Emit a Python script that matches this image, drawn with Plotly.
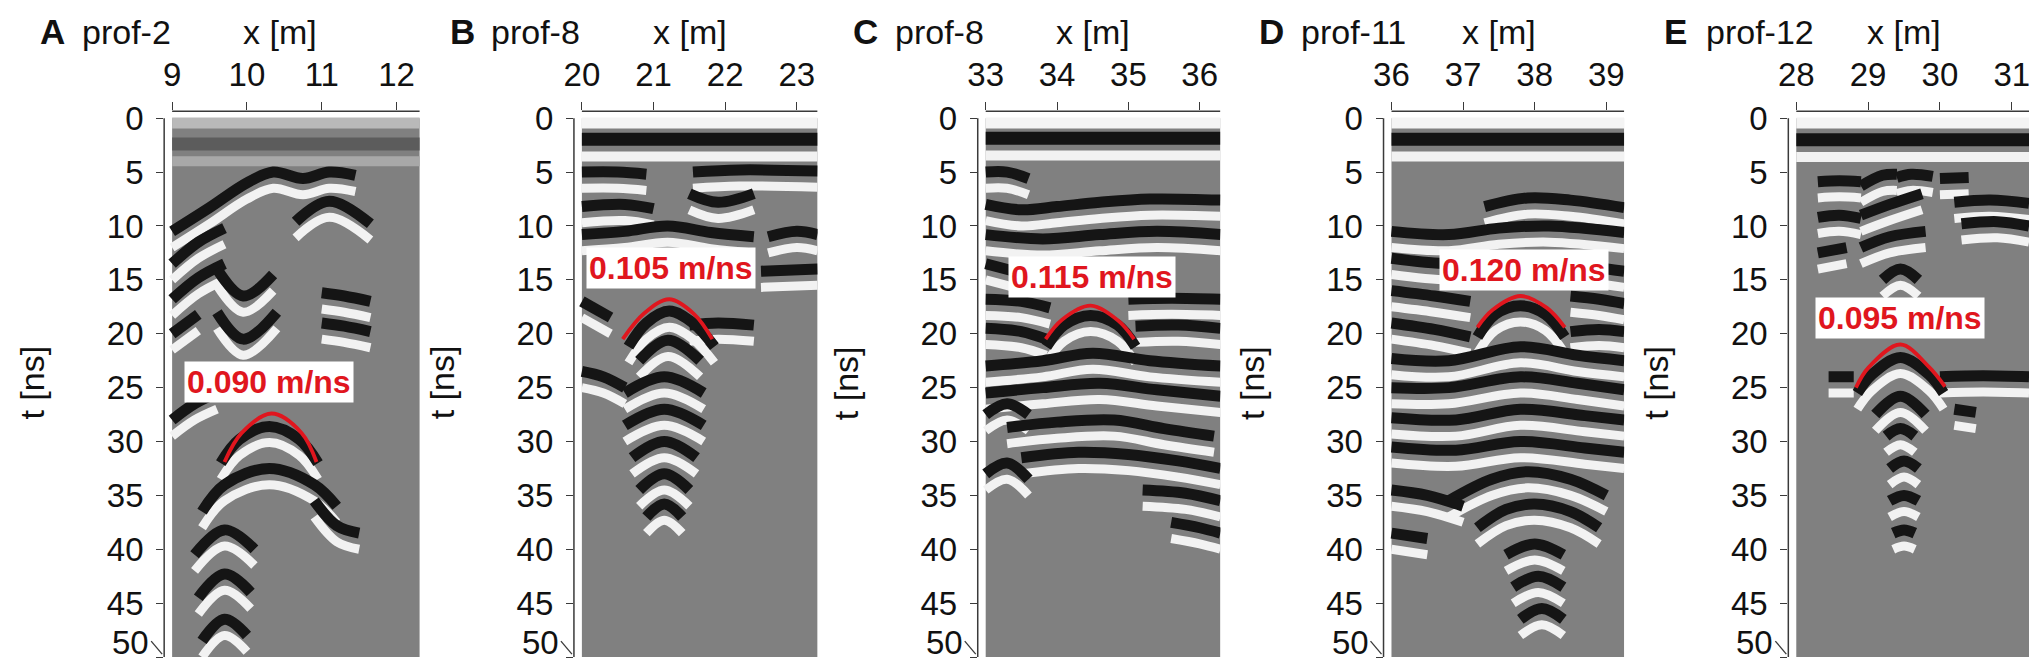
import plotly.graph_objects as go

# ---- data ----
panels = ["A", "B", "C", "D", "E"]
profiles = ["prof-2", "prof-8", "prof-8", "prof-11", "prof-12"]
velocity = [0.090, 0.105, 0.115, 0.120, 0.095]  # m/ns
x_start = [9.0, 20.0, 33.0, 36.0, 28.0]
x_end = [12.31, 23.29, 36.29, 39.25, 31.24]
t_ticks = [0, 5, 10, 15, 20, 25, 30, 35, 40, 45, 50]

# direct (air/ground) wave, t [ns]
direct_t = [2.4, 1.95, 1.85, 1.95, 2.0]

# picked diffraction hyperbolas (red)
hyp_x = [
    [9.70, 9.93, 10.33, 10.73, 10.93],
    [20.57, 20.87, 21.22, 21.57, 21.82],
    [33.84, 34.07, 34.47, 34.86, 35.08],
    [37.20, 37.41, 37.80, 38.17, 38.42],
    [28.83, 29.01, 29.45, 29.85, 30.07],
]
hyp_t = [
    [31.9, 29.2, 27.4, 29.2, 31.9],
    [20.5, 18.1, 16.8, 18.2, 20.5],
    [20.5, 18.7, 17.4, 18.8, 20.5],
    [19.4, 17.8, 16.5, 17.6, 19.4],
    [25.0, 23.1, 21.0, 23.1, 24.9],
]
label_x = [10.30, 21.25, 34.49, 37.85, 29.44]
label_t = [24.5, 13.9, 14.7, 14.1, 18.5]

# traced reflections (dark phase), x [m] / t [ns]
refl_A = [
    ([9.0, 9.5, 10.0, 10.35, 10.75, 11.1, 11.45], [10.5, 8.3, 6.0, 5.0, 5.6, 5.0, 5.3]),
    ([10.65, 11.1, 11.65], [9.6, 7.7, 9.8]),
    ([9.0, 9.35, 9.7], [13.5, 11.5, 10.2]),
    ([9.0, 9.35, 9.7], [16.8, 14.8, 13.5]),
    ([9.0, 9.35], [20.0, 18.2]),
    ([9.6, 9.95, 10.35], [14.0, 16.5, 14.5]),
    ([9.6, 9.95, 10.4], [18.0, 20.5, 18.0]),
    ([11.0, 11.3, 11.65], [16.2, 16.5, 17.0]),
    ([11.0, 11.3, 11.65], [19.0, 19.3, 19.8]),
    ([9.0, 9.3, 9.6], [28.0, 26.5, 25.5]),
    ([9.65, 9.9, 10.3, 10.7, 10.95], [32.0, 29.8, 28.6, 29.8, 32.0]),
    ([9.4, 9.7, 10.3, 10.9, 11.2], [36.5, 34.0, 32.5, 34.0, 36.0]),
    ([9.3, 9.7, 10.1], [40.5, 38.2, 40.0]),
    ([9.35, 9.7, 10.05], [44.5, 42.3, 44.0]),
    ([9.4, 9.7, 10.0], [48.5, 46.5, 48.0]),
    ([10.9, 11.2, 11.5], [35.5, 37.8, 38.5]),
]
refl_B = [
    ([20.0, 20.5, 20.9], [5.0, 5.0, 5.2]),
    ([21.55, 22.2, 23.29], [5.0, 4.8, 4.9]),
    ([20.0, 20.6, 21.0], [8.2, 8.0, 8.4]),
    ([21.5, 21.9, 22.4], [7.0, 7.8, 7.0]),
    ([20.0, 20.6, 21.2, 21.8, 22.4], [10.8, 10.5, 10.0, 10.6, 11.0]),
    ([22.6, 23.0, 23.29], [11.0, 10.5, 10.8]),
    ([22.5, 23.29], [14.2, 14.0]),
    ([20.0, 20.4], [17.0, 18.5]),
    ([20.65, 20.9, 21.22, 21.55, 21.85], [21.2, 19.0, 17.9, 19.0, 21.2]),
    ([21.5, 21.9, 22.4], [19.2, 19.0, 19.2]),
    ([20.8, 21.2, 21.65], [22.5, 20.6, 22.5]),
    ([20.0, 20.3, 20.6], [23.5, 24.0, 25.0]),
    ([20.6, 21.15, 21.7], [25.5, 24.0, 25.5]),
    ([20.6, 21.15, 21.7], [28.5, 27.0, 28.5]),
    ([20.7, 21.15, 21.6], [31.5, 30.0, 31.5]),
    ([20.8, 21.15, 21.5], [34.5, 33.0, 34.5]),
    ([20.9, 21.15, 21.4], [37.0, 35.8, 37.0]),
]
refl_C = [
    ([33.0, 33.3, 33.6], [5.0, 5.0, 5.6]),
    ([33.0, 33.5, 34.0, 34.6, 35.3, 36.29], [8.0, 8.5, 8.2, 7.8, 7.5, 7.6]),
    ([33.0, 33.8, 34.6, 35.4, 36.29], [10.8, 11.2, 10.8, 10.5, 10.8]),
    ([33.0, 33.4], [13.5, 14.2]),
    ([33.0, 33.5, 33.9], [16.8, 17.0, 17.6]),
    ([35.0, 35.6, 36.29], [16.8, 16.7, 16.8]),
    ([33.85, 34.1, 34.47, 34.85, 35.1], [21.2, 19.2, 18.3, 19.2, 21.2]),
    ([33.0, 33.5, 33.85], [19.5, 19.8, 20.5]),
    ([35.1, 35.7, 36.29], [19.3, 19.2, 19.5]),
    ([33.0, 33.8, 34.5, 35.3, 36.29], [23.0, 22.5, 21.8, 22.5, 23.0]),
    ([33.0, 33.8, 34.6, 35.4, 36.29], [25.5, 25.0, 24.6, 25.2, 25.8]),
    ([33.3, 34.0, 34.8, 35.5, 36.2], [28.7, 28.2, 28.0, 28.8, 29.5]),
    ([33.5, 34.3, 35.0, 35.7, 36.29], [31.5, 31.0, 31.2, 31.8, 32.5]),
    ([35.2, 35.8, 36.29], [34.5, 34.8, 35.5]),
    ([35.6, 36.0, 36.29], [37.5, 38.0, 38.5]),
    ([33.0, 33.3, 33.6], [27.5, 26.5, 27.5]),
    ([33.0, 33.3, 33.6], [33.0, 32.0, 33.5]),
]
refl_D = [
    ([37.3, 37.9, 38.5, 39.25], [8.2, 7.4, 7.6, 8.3]),
    ([36.0, 36.8, 37.5, 38.2, 39.25], [10.5, 10.8, 10.2, 10.0, 10.6]),
    ([36.0, 36.8, 37.5], [13.0, 13.5, 13.2]),
    ([38.3, 38.8, 39.25], [13.5, 13.8, 14.2]),
    ([36.0, 36.6, 37.1], [16.0, 16.5, 17.0]),
    ([38.5, 38.9, 39.25], [16.5, 16.8, 17.2]),
    ([36.0, 36.6, 37.1], [19.0, 19.6, 20.3]),
    ([38.5, 38.9, 39.25], [19.8, 19.6, 19.8]),
    ([37.2, 37.45, 37.8, 38.15, 38.42], [20.3, 18.2, 17.4, 18.2, 20.3]),
    ([36.0, 36.8, 37.8, 38.6, 39.25], [22.3, 22.5, 21.2, 22.0, 22.5]),
    ([36.0, 36.8, 37.8, 38.6, 39.25], [25.0, 25.0, 24.0, 24.6, 25.2]),
    ([36.0, 36.9, 37.8, 38.7, 39.25], [27.8, 28.0, 27.0, 27.6, 28.0]),
    ([36.0, 36.9, 37.8, 38.7, 39.25], [30.5, 30.8, 30.0, 30.6, 31.0]),
    ([36.8, 37.4, 37.9, 38.5, 39.0], [35.5, 33.5, 32.8, 33.5, 35.0]),
    ([37.2, 37.6, 38.0, 38.5, 38.9], [38.0, 36.3, 35.8, 36.5, 38.0]),
    ([37.6, 38.0, 38.4], [40.5, 39.5, 40.5]),
    ([37.7, 38.05, 38.4], [43.5, 42.5, 43.5]),
    ([37.8, 38.1, 38.4], [46.5, 45.5, 46.5]),
    ([36.0, 36.5, 37.0], [34.5, 35.0, 36.0]),
    ([36.0, 36.5], [38.5, 39.0]),
]
refl_E = [
    ([28.3, 28.6, 28.9], [5.9, 5.8, 5.9]),
    ([30.0, 30.4], [5.6, 5.5]),
    ([28.9, 29.2, 29.4], [6.3, 5.3, 5.2]),
    ([29.4, 29.6, 29.9], [5.5, 5.2, 5.4]),
    ([28.9, 29.3, 29.75], [9.0, 8.0, 7.0]),
    ([28.3, 28.6, 28.9], [9.2, 9.0, 9.3]),
    ([28.9, 29.3, 29.8], [12.0, 11.0, 10.5]),
    ([28.3, 28.7], [12.5, 12.0]),
    ([30.2, 30.7, 31.24], [7.8, 7.6, 7.9]),
    ([30.3, 30.8, 31.24], [9.8, 9.6, 10.0]),
    ([29.2, 29.45, 29.7], [15.0, 14.0, 15.0]),
    ([28.85, 29.05, 29.45, 29.85, 30.05], [25.5, 23.8, 22.2, 23.8, 25.5]),
    ([28.45, 28.8], [24.0, 24.0]),
    ([30.0, 30.6, 31.24], [24.0, 23.9, 24.0]),
    ([29.1, 29.45, 29.8], [27.5, 25.8, 27.5]),
    ([29.25, 29.45, 29.65], [29.5, 28.8, 29.5]),
    ([29.3, 29.5, 29.7], [32.5, 31.8, 32.5]),
    ([29.3, 29.5, 29.7], [35.5, 35.0, 35.5]),
    ([29.35, 29.5, 29.65], [38.5, 38.2, 38.5]),
    ([30.2, 30.5], [27.0, 27.3]),
]
reflections = [refl_A, refl_B, refl_C, refl_D, refl_E]

# ---- layout in pixels ----
W, H = 2032, 661
px_left = [155, 567, 973, 1381, 1788]   # t-axis line
px_right = [412, 812, 1217, 1623, 2030]
top_px, bot_px = 102, 657
t_top = -0.64
FONT = "Liberation Sans, Arial, sans-serif"
RED = "#e0161e"
INK = "#111111"
AXC = "#3a3a3a"

fig = go.Figure()

for i in range(5):
    sfx = "" if i == 0 else str(i + 1)
    xa, ya = "x" + sfx, "y" + sfx
    scale = (px_right[i] - px_left[i] - 8) / (x_end[i] - x_start[i])
    lo = x_start[i] - 8 / scale
    faint = i == 0  # profile 2 has a weak direct wave

    bx, bt, wx, wt = [], [], [], []
    for xs, ts in reflections[i]:
        bx += xs + [None]
        bt += ts + [None]
        wx += xs + [None]
        wt += [t + 1.5 for t in ts] + [None]

    edge = [x_start[i], x_end[i]]
    # top light band + direct wave
    fig.add_trace(go.Scatter(x=edge, y=[0.45, 0.45], xaxis=xa, yaxis=ya, mode="lines",
                             line=dict(color="#b9b9b9" if faint else "#f4f4f4", width=11),
                             hoverinfo="skip", showlegend=False))
    fig.add_trace(go.Scatter(x=edge, y=[direct_t[i] + 1.6] * 2, xaxis=xa, yaxis=ya,
                             mode="lines",
                             line=dict(color="#a8a8a8" if faint else "#f2f2f2", width=10),
                             hoverinfo="skip", showlegend=False))
    fig.add_trace(go.Scatter(x=edge, y=[direct_t[i]] * 2, xaxis=xa, yaxis=ya, mode="lines",
                             line=dict(color="#5c5c5c" if faint else "#141414", width=13),
                             hoverinfo="skip", showlegend=False))

    fig.add_trace(go.Scatter(x=wx, y=wt, xaxis=xa, yaxis=ya, mode="lines",
                             line=dict(color="#f2f2f2", width=9, shape="spline"),
                             hoverinfo="skip", showlegend=False))
    fig.add_trace(go.Scatter(x=bx, y=bt, xaxis=xa, yaxis=ya, mode="lines",
                             line=dict(color="#151515", width=11, shape="spline"),
                             hoverinfo="skip", showlegend=False))
    fig.add_trace(go.Scatter(x=hyp_x[i], y=hyp_t[i], xaxis=xa, yaxis=ya, mode="lines",
                             line=dict(color=RED, width=3.8, shape="spline"),
                             hoverinfo="skip", showlegend=False))

    fig.layout["xaxis" + sfx] = dict(
        domain=[px_left[i] / W, px_right[i] / W], anchor=ya, side="top",
        range=[lo, x_end[i]], dtick=1, tick0=0, ticks="outside", ticklen=8,
        tickwidth=1.3, tickcolor=AXC, showgrid=False, zeroline=False,
        showline=False, tickfont=dict(family=FONT, size=33, color=INK),
        ticklabelstandoff=3, fixedrange=True)
    fig.layout["yaxis" + sfx] = dict(
        domain=[1 - bot_px / H, 1 - top_px / H], anchor=xa,
        range=[50, t_top], tickvals=t_ticks,
        ticktext=[str(v) if v < 50 else "" for v in t_ticks],
        ticks="outside", ticklen=7, tickwidth=1.3, tickcolor=AXC,
        showgrid=False, zeroline=False, showline=False,
        tickfont=dict(family=FONT, size=33, color=INK),
        ticklabelstandoff=6, fixedrange=True)

    # radargram background
    fig.add_shape(type="rect", xref=xa, yref=ya, x0=x_start[i], x1=x_end[i], y0=0, y1=50,
                  fillcolor="#808080", line_width=0, layer="below")
    # axis lines
    fig.add_shape(type="line", xref=xa, yref=ya + " domain", x0=x_start[i], x1=x_end[i],
                  y0=1, y1=1, line=dict(color=AXC, width=1.5))
    fig.add_shape(type="line", xref=xa + " domain", yref=ya, x0=0, x1=0, y0=0, y1=50,
                  line=dict(color=AXC, width=1.5))
    # small end mark at the bottom of the time axis
    fig.add_shape(type="line", xref=xa + " domain", yref=ya, xsizemode="pixel",
                  ysizemode="pixel", xanchor=0, yanchor=50, x0=-13, x1=-2, y0=16, y1=3,
                  line=dict(color=AXC, width=1.3))
    # last tick label sits above the axis end, as in the original
    fig.add_annotation(x=(px_left[i] - 13) / W, y=1 - 642 / H, xref="paper", yref="paper",
                       text="50", showarrow=False, xanchor="right", yanchor="middle",
                       font=dict(family=FONT, size=33, color=INK))

    # velocity label
    fig.add_annotation(x=label_x[i], y=label_t[i], xref=xa, yref=ya,
                       text="<b>%.3f m/ns</b>" % velocity[i], showarrow=False,
                       xanchor="center", yanchor="middle",
                       font=dict(family=FONT, size=32, color=RED),
                       bgcolor="white", borderpad=2)

    # panel headers
    ytop = 1 - 21 / H
    fig.add_annotation(x=(px_left[i] - 127) / W, y=ytop, xref="paper", yref="paper",
                       text="<b>%s</b>" % panels[i], showarrow=False, xanchor="left",
                       yanchor="middle", font=dict(family=FONT, size=35, color=INK))
    fig.add_annotation(x=(px_left[i] - 85) / W, y=ytop, xref="paper", yref="paper",
                       text=profiles[i], showarrow=False, xanchor="left",
                       yanchor="middle", font=dict(family=FONT, size=34, color=INK))
    fig.add_annotation(x=(px_left[i] + 77) / W, y=ytop, xref="paper", yref="paper",
                       text="x [m]", showarrow=False, xanchor="left",
                       yanchor="middle", font=dict(family=FONT, size=34, color=INK))
    fig.add_annotation(x=(px_left[i] - 133) / W, y=1 - 378 / H, xref="paper", yref="paper",
                       text="t [ns]", showarrow=False, textangle=-90,
                       xanchor="center", yanchor="middle",
                       font=dict(family=FONT, size=34, color=INK))

fig.update_layout(width=W, height=H, margin=dict(l=0, r=0, t=0, b=0),
                  paper_bgcolor="white", plot_bgcolor="white")

# the page body has a default 8px margin; drop it so the figure fills the window
fig.write_html("out.html", config={"displayModeBar": False},
               post_script="document.body.style.margin='0';")
